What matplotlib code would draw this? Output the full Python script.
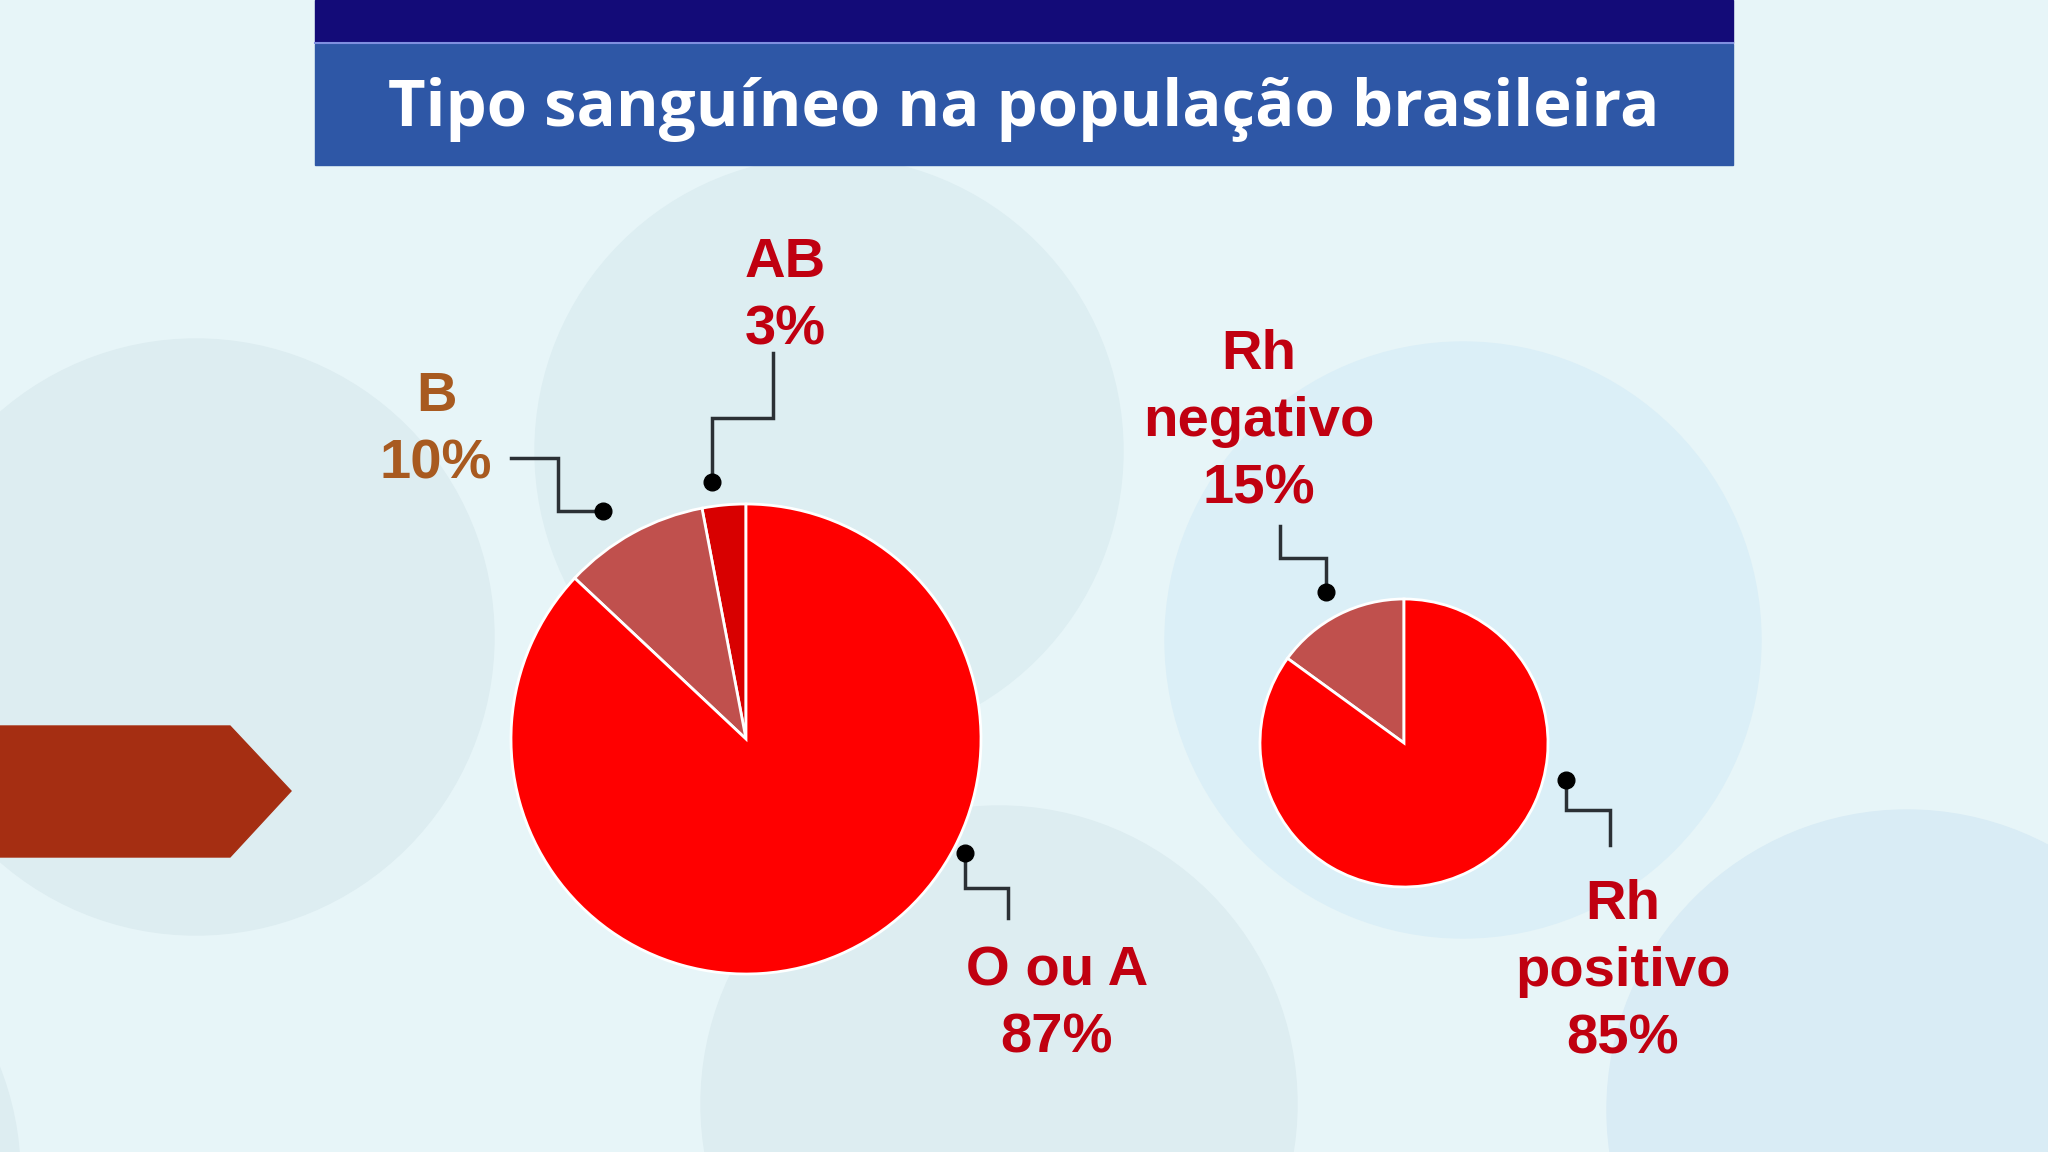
import matplotlib
matplotlib.use("Agg")
import matplotlib.pyplot as plt
from matplotlib.patches import Circle, Polygon, Rectangle

# Data
abo_labels = ["AB", "B", "O ou A"]
abo_values = [3, 10, 87]
abo_colors = ["#d80000", "#c0504d", "#ff0000"]

rh_labels = ["Rh\nnegativo", "Rh\npositivo"]
rh_values = [15, 85]
rh_colors = ["#c0504d", "#ff0000"]

title = "Tipo sanguíneo na população brasileira"

W, H = 2048, 1152
fig = plt.figure(figsize=(20.48, 11.52), dpi=100)
ax = fig.add_axes([0, 0, 1, 1])


def py(y):
    # convert top-down pixel y to data y
    return H - y


# background
ax.add_patch(Rectangle((0, 0), W, H, color="#e7f5f8", zorder=0))
bg_circles = [((196, 637), 298, "#ddedf1"),
              ((829, 451), 294, "#ddeef2"),
              ((1463, 640), 298, "#dbeff7"),
              ((999, 1104), 298, "#ddedf1"),
              ((1907, 1110), 300, "#d9ecf5"),
              ((-274, 1175), 294, "#ddedf1")]
for (cx, cy), r, c in bg_circles:
    ax.add_patch(Circle((cx, py(cy)), r, color=c, zorder=1))

# arrow shape on the left
arrow = [(0, 726), (230, 726), (291, 791), (230, 857), (0, 857)]
ax.add_patch(Polygon([(x, py(y)) for x, y in arrow], closed=True,
                     color="#a52e12", zorder=2))

# title bar
ax.add_patch(Rectangle((315, py(43)), 1418, 43, color="#130b78", zorder=3))
ax.add_patch(Rectangle((315, py(165)), 1418, 121, color="#2e57a6", zorder=3))
ax.plot([315, 1733], [py(43), py(43)], color="#7f8fe0", lw=1.5, zorder=4)
ax.text(1024, py(110), title, ha="center", va="center", color="white",
        fontsize=47, fontweight="bold", family="Open Sans", zorder=5)

# pies
wp = dict(edgecolor="white", linewidth=2)
ax.pie(abo_values, colors=abo_colors, startangle=90, counterclock=True,
       center=(746, py(739)), radius=235, wedgeprops=wp, frame=True)
ax.pie(rh_values, colors=rh_colors, startangle=90, counterclock=True,
       center=(1404, py(743)), radius=144, wedgeprops=wp, frame=True)

# labels: text center, connector polyline (dot at the first point)
red = "#c00010"
brown = "#a85a20"
labels = [
    (f"{abo_labels[0]}\n{abo_values[0]}%", (785, 297), red,
     [(712, 482), (712, 418), (773, 418), (773, 353)]),
    (f"{abo_labels[1]}\n{abo_values[1]}%", (436, 431), brown,
     [(603, 511), (558, 511), (558, 458), (511, 458)]),
    (f"{abo_labels[2]}\n{abo_values[2]}%", (1057, 1005), red,
     [(965, 853), (965, 888), (1008, 888), (1008, 918)]),
    (f"{rh_labels[0]}\n{rh_values[0]}%", (1259, 422), red,
     [(1326, 592), (1326, 558), (1280, 558), (1280, 526)]),
    (f"{rh_labels[1]}\n{rh_values[1]}%", (1623, 972), red,
     [(1566, 780), (1566, 810), (1610, 810), (1610, 845)]),
]
for txt, (tx, ty), col, path in labels:
    ax.text(tx, py(ty), txt, ha="center", va="center", color=col,
            fontsize=40.5, fontweight="bold", family="Liberation Sans",
            linespacing=1.38, zorder=6)
    xs = [p[0] for p in path]
    ys = [py(p[1]) for p in path]
    ax.plot(xs, ys, color="#2b3035", lw=2.5, zorder=6,
            solid_joinstyle="miter")
    ax.plot(xs[0], ys[0], "o", color="black", ms=12, zorder=7)

ax.set_xlim(0, W)
ax.set_ylim(0, H)
ax.set_aspect("equal")
ax.axis("off")

fig.savefig("out.png", dpi=100)
